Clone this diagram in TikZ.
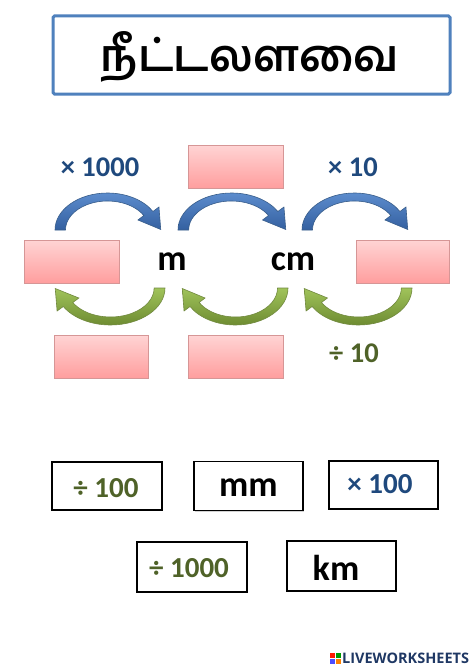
\documentclass[tikz,border=0pt]{standalone}
\usepackage{fontspec}
\setmainfont{Carlito}
\newfontfamily\tamilfont[Script=Tamil]{Hind Madurai}
\newfontfamily\wmfont{Open Sans}
\usetikzlibrary{shadows}
\definecolor{titleblue}{RGB}{79,129,189}
\definecolor{labelblue}{RGB}{31,73,125}
\definecolor{labelgreen}{RGB}{79,98,40}
\definecolor{arrowblueL}{RGB}{92,140,205}
\definecolor{arrowblueD}{RGB}{52,96,160}
\definecolor{arrowblueE}{RGB}{56,93,138}
\definecolor{arrowgreenL}{RGB}{160,195,90}
\definecolor{arrowgreenD}{RGB}{110,140,50}
\definecolor{arrowgreenE}{RGB}{113,137,63}
\definecolor{pinkL}{RGB}{255,212,212}
\definecolor{pinkD}{RGB}{255,158,158}
\definecolor{pinkE}{RGB}{214,150,150}
\definecolor{wmblue}{RGB}{31,56,100}
\newcommand{\curvedarrowshape}{(0,0) arc[start angle=180,end angle=330,x radius=50,y radius=37] -- (99,-23) -- (100.7,-0.5) -- (79,-10) -- (84.6,-14.5) arc[start angle=330,end angle=180,x radius=40,y radius=29] -- cycle}
\begin{document}
\begin{tikzpicture}[x=1pt,y=-1pt,
  titlebox/.style={draw=titleblue, line width=3pt, rounded corners=1.5pt, minimum width=397pt, minimum height=78pt, inner sep=0pt},
  pinkbox/.style={draw=pinkE, line width=0.8pt, top color=pinkL, bottom color=pinkD, minimum width=95pt, minimum height=43pt, inner sep=0pt},
  cardbox/.style={draw=black, line width=1.8pt, fill=white, minimum width=109pt, minimum height=48pt, inner sep=0pt, drop shadow={shadow xshift=1.2pt, shadow yshift=-1.2pt, opacity=0.35}},
  bluearrow/.style={top color=arrowblueL, bottom color=arrowblueD, draw=arrowblueE, line width=0.6pt},
  greenarrow/.style={top color=arrowgreenL, bottom color=arrowgreenD, draw=arrowgreenE, line width=0.6pt},
  bluelabel/.style={text=labelblue, font=\bfseries\fontsize{28.5}{30}\selectfont, inner sep=0pt},
  greenlabel/.style={text=labelgreen, font=\bfseries\fontsize{28.5}{30}\selectfont, inner sep=0pt},
  unitlabel/.style={text=black, font=\bfseries\fontsize{36}{38}\selectfont, inner sep=0pt},
  cardtext/.style={font=\bfseries\fontsize{29}{30}\selectfont}
]
\useasboundingbox (0,0) rectangle (474,669);
\fill[white] (0,0) rectangle (474,669);

% title
\node[titlebox] (title) at (251.5,55) {};
\node[font=\tamilfont\bfseries\fontsize{44}{50}\selectfont, inner sep=0pt] (titletext) at (250,57) {நீட்டலளவை};

% pink boxes
\node[pinkbox] (ptop) at (235.5,166.5) {};
\node[pinkbox] (pleft) at (71.5,261.5) {};
\node[pinkbox, minimum width=93pt] (pright) at (402.5,261.5) {};
\node[pinkbox, minimum width=94pt] (pbot1) at (101,356.5) {};
\node[pinkbox] (pbot2) at (235.5,356.5) {};

% labels
\node[bluelabel] (x1000) at (100,167) {× 1000};
\node[bluelabel] (x10) at (353,167) {× 10};
\node[unitlabel] (m) at (172,262) {m};
\node[unitlabel] (cm) at (293,262) {cm};
\node[greenlabel] (d10) at (354,353) {÷ 10};

% blue arrows
\begin{scope}[shift={(55,230)}, xscale=1.05]
  \path[bluearrow] \curvedarrowshape;
\end{scope}
\begin{scope}[shift={(178,230)}, xscale=1.07]
  \path[bluearrow] \curvedarrowshape;
\end{scope}
\begin{scope}[shift={(302,230)}, xscale=1.05]
  \path[bluearrow] \curvedarrowshape;
\end{scope}

% green arrows
\begin{scope}[shift={(165,288)}, rotate=180, xscale=1.09]
  \path[greenarrow] \curvedarrowshape;
\end{scope}
\begin{scope}[shift={(288,288)}, rotate=180, xscale=1.05]
  \path[greenarrow] \curvedarrowshape;
\end{scope}
\begin{scope}[shift={(412,288)}, rotate=180, xscale=1.07]
  \path[greenarrow] \curvedarrowshape;
\end{scope}

% cards
\node[cardbox, minimum width=110pt] (c1) at (107,486) {};
\node[cardtext, text=labelgreen] (c1t) at (106,488) {÷ 100};
\node[cardbox, minimum height=49pt] (c2) at (248.5,486) {};
\node[cardtext, text=black, font=\bfseries\fontsize{36}{38}\selectfont] (c2t) at (248.5,488) {mm};
\node[cardbox] (c3) at (383.5,485) {};
\node[cardtext, text=labelblue] (c3t) at (380,484) {× 100};
\node[cardbox, minimum width=110pt, minimum height=50pt] (c4) at (192,567) {};
\node[cardtext, text=labelgreen] (c4t) at (189,568) {÷ 1000};
\node[cardbox, minimum height=50pt] (c5) at (341.5,566) {};
\node[cardtext, text=black, font=\bfseries\fontsize{36}{38}\selectfont] (c5t) at (336,568) {km};

% watermark
\fill[red!80!orange] (330,652.5) rectangle (335,657.5);
\fill[green!60!black] (336,652.5) rectangle (341,657.5);
\fill[blue!70] (330,658.5) rectangle (335,663.5);
\fill[orange] (336,658.5) rectangle (341,663.5);
\node[anchor=west, inner sep=0pt, text=wmblue, font=\wmfont\bfseries\fontsize{14.5}{16}\selectfont] (wm) at (342,658) {LIVEWORKSHEETS};
\end{tikzpicture}
\end{document}
